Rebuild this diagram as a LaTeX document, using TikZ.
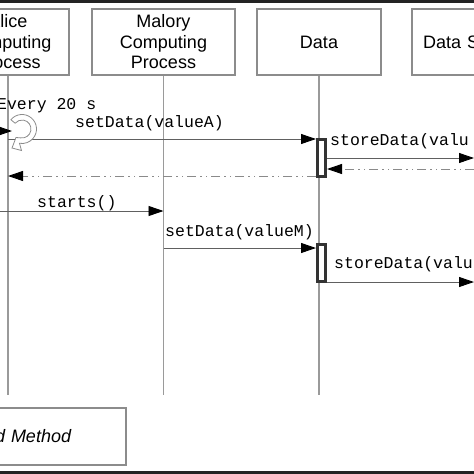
\documentclass[tikz,border=0pt]{standalone}
\usepackage{fontspec}
\setmainfont{Liberation Sans}
\newfontfamily\monofont{Liberation Mono}
\usetikzlibrary{arrows.meta}
\definecolor{boxgray}{HTML}{8C8C8C}
\definecolor{lifegray}{HTML}{9A9A9A}
\definecolor{msggray}{HTML}{606060}
\definecolor{retgray}{HTML}{8A8A8A}
\definecolor{actdark}{HTML}{333333}
\definecolor{bardark}{HTML}{232323}
\begin{document}
\begin{tikzpicture}[x=1pt,y=-1pt,
  headbox/.style={draw=boxgray,line width=1.2pt,fill=white,inner sep=0pt,align=center,
    minimum height=66pt,font=\fontsize{18}{20.5}\selectfont},
  lifeline/.style={draw=lifegray,line width=1.3pt},
  actbox/.style={draw=actdark,line width=3pt,fill=white,inner sep=0pt,minimum width=8pt,minimum height=37pt},
  msg/.style={draw=msggray,line width=0.9pt,-{Triangle[length=15pt,width=10pt,color=black]}},
  retmsg/.style={draw=retgray,line width=0.9pt,dash pattern=on 9pt off 4pt on 1.5pt off 4pt on 1.5pt off 4pt,
    -{Triangle[length=15pt,width=10pt,color=black]}},
  lbl/.style={anchor=base west,inner sep=0pt,font=\monofont\fontsize{16.5}{18}\selectfont},
  loopicon/.style={draw=boxgray,line width=0.8pt,fill=white}]
\useasboundingbox (0,0) rectangle (474,474);
\clip (0,0) rectangle (474,474);
% bars
\fill[bardark] (0,0) rectangle (474,3);
\fill[bardark] (0,471) rectangle (474,474);
% headers
\node[headbox,minimum width=122pt] (alice) at (8,42) {Alice\\Computing\\Process};
\node[headbox,minimum width=143pt] (malory) at (163.5,42) {Malory\\Computing\\Process};
\node[headbox,minimum width=124pt] (data) at (319,42) {Data};
\node[headbox,minimum width=124pt,text width=102pt,align=left] (datas) at (474,42) {Data S};
% lifelines
\coordinate (aliceend) at (8,395);
\coordinate (maloryend) at (163.5,395);
\coordinate (dataend) at (319,395);
\coordinate (datasend) at (475,395);
\draw[lifeline] (alice.south) -- (aliceend);
\draw[lifeline] (malory.south) -- (maloryend);
\draw[lifeline] (data.south) -- (dataend);
\draw[lifeline] ([xshift=1pt]datas.south) -- (datasend);
% activations
\node[actbox] (act1) at (321.5,158) {};
\node[actbox] (act2) at (321.5,263) {};
% messages
\coordinate (inA) at (-6,131);
\coordinate (inAtip) at (12,131);
\draw[msg] (inA) -- (inAtip);
\draw[msg] (alice.south |- 0,139) -- (act1.west |- 0,139);
\node[lbl] (l1) at (75,127) {setData(valueA)};
% loop icon
\begin{scope}[shift={(22,129)},y=1pt]
  \path[loopicon] (140:14.5) arc[start angle=140,end angle=-100,radius=14.5]
    -- (-0.5,-21.5) -- (-10,-19) -- (-6,-8.5) -- (-100:9)
    arc[start angle=-100,end angle=140,radius=9] -- cycle;
\end{scope}
\node[lbl] (every) at (-3,109) {Every 20 s};
\draw[msg] (act1.east |- 0,158) -- (datas.south |- 0,158);
\node[lbl] (l2) at (330,145) {storeData(valu};
\draw[retmsg] (datas.south |- 0,169) -- (act1.east |- 0,169);
\draw[retmsg] (act1.west |- 0,176) -- (alice.south |- 0,176);
\coordinate (inS) at (-6,211);
\draw[msg] (inS) -- (malory.south |- 0,211);
\node[lbl] (l3) at (37,207) {starts()};
\draw[msg] (malory.south |- 0,248) -- (act2.west |- 0,248);
\node[lbl] (l4) at (165,236.5) {setData(valueM)};
\draw[msg] (act2.east |- 0,282) -- (datas.south |- 0,282);
\node[lbl] (l5) at (334,268) {storeData(valu};
% bottom box
\node[draw=boxgray,line width=1.2pt,fill=white,inner sep=0pt,minimum width=172pt,minimum height=57pt,
  text width=90pt,align=left,font=\fontsize{18}{20}\selectfont\itshape] (method) at (40,436.5) {d Method};
\end{tikzpicture}
\end{document}
